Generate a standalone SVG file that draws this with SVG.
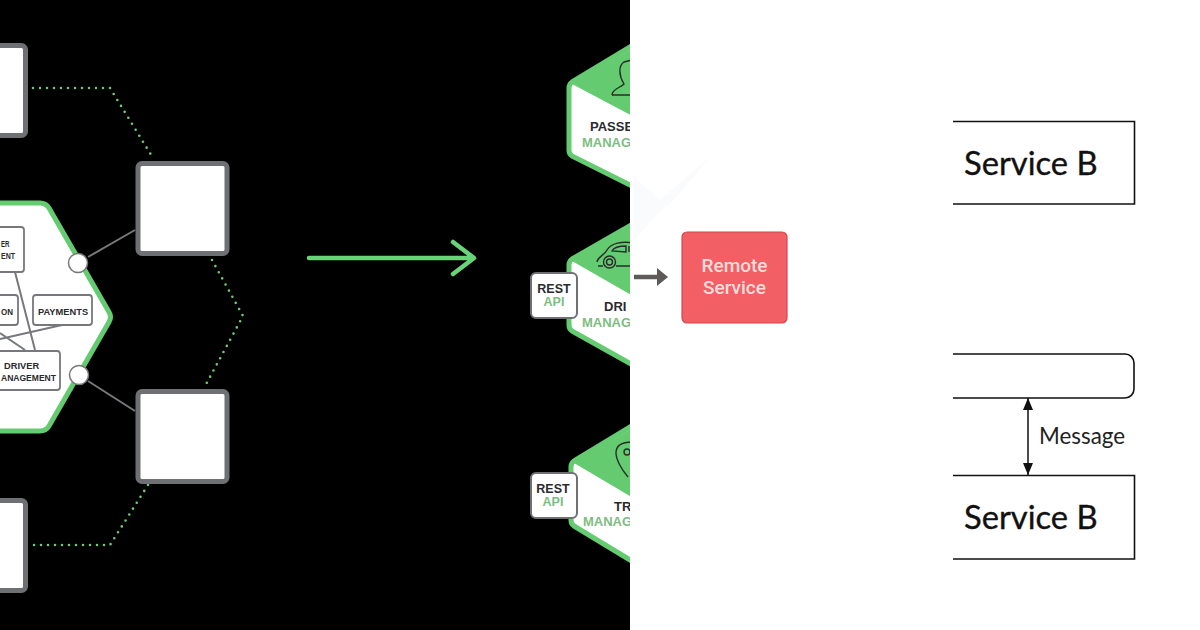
<svg xmlns="http://www.w3.org/2000/svg" width="1200" height="630" viewBox="0 0 1200 630">
<defs>
<style>
.sq{fill:#fff;stroke:#6f7074;stroke-width:5}
.dot{fill:none;stroke:#6ccb74;stroke-width:2.6;stroke-linecap:round;stroke-dasharray:0 7}
.lnk{stroke:#77787c;stroke-width:2;fill:none}
.in{fill:#fff;stroke:#77787c;stroke-width:1.8}
.t{font-family:"Liberation Sans",Arial,sans-serif;font-weight:700;fill:#2a2a2e}
.s{font-size:9.3px}
.hx{fill:#fff;stroke:#64cb70;stroke-width:5;stroke-linejoin:round}
.gr{fill:#64cb70}
.h{font-size:13px;text-anchor:start}
.g{fill:#7dbd82}
.rest{fill:#fff;stroke:#6f7074;stroke-width:2}
.ic{fill:none;stroke:#2b2b2b;stroke-width:1.4}
.b{fill:#fff;stroke:#111;stroke-width:1.6}
.sb{font-family:Lato,"Liberation Sans",sans-serif;font-size:32.700px;fill:#111;stroke:#111;stroke-width:.35}
</style>
<marker id="tip" viewBox="0 0 10 10" refX="10" refY="5" markerWidth="12" markerHeight="10" markerUnits="userSpaceOnUse" orient="auto-start-reverse" preserveAspectRatio="none"><path d="M0 0L10 5L0 10Z" fill="#111"/></marker>
</defs>
<rect width="630" height="630" fill="#000"/>

<g id="connectors-left">
<path class="dot" d="M33 88H110L153 158"/>
<path class="dot" d="M212 260L243 316L204 388"/>
<path class="dot" d="M148 485L110 545H30"/>
<path class="lnk" d="M88 257L135 230M88 381L135 411"/>
<path d="M309 258H473M453 242L474 258L453 274" fill="none" stroke="#69d477" stroke-width="4.500" stroke-linecap="round" stroke-linejoin="round"/>
</g>

<g id="box-top-left"><rect class="sq" x="-20" y="45.500" width="45.500" height="90" rx="4"/></g>
<g id="box-upper-right"><rect class="sq" x="138" y="163.500" width="89" height="90" rx="4"/></g>
<g id="box-lower-right"><rect class="sq" x="138" y="391.500" width="89" height="90" rx="4"/></g>
<g id="box-bottom-left"><rect class="sq" x="-20" y="500.500" width="45.500" height="90" rx="4"/></g>

<g id="monolith">
<path d="M-20 203H40Q46 203 49 208L109 312Q112 317 109 322L49 426Q46 431 40 431H-20Z" fill="#fff" stroke="#64cb70" stroke-width="5" stroke-linejoin="round"/>
<path class="lnk" d="M15 272L35 350M62 325L0 339M0 333L25 350"/>
<rect class="in" x="-10" y="227" width="34" height="45" rx="3"/>
<rect class="in" x="-10" y="295" width="28" height="30" rx="3"/>
<rect class="in" x="33" y="295" width="59" height="30" rx="3"/>
<rect class="in" x="-10" y="351" width="70" height="39" rx="3"/>
<text class="t s" x="1" y="247" textLength="8.500" lengthAdjust="spacingAndGlyphs">ER</text>
<text class="t s" x="1" y="259" textLength="14" lengthAdjust="spacingAndGlyphs">ENT</text>
<text class="t s" x="1" y="315" textLength="12" lengthAdjust="spacingAndGlyphs">ON</text>
<text class="t s" x="38" y="315">PAYMENTS</text>
<text class="t s" x="4" y="369">DRIVER</text>
<text class="t s" x="1" y="380.500" textLength="55" lengthAdjust="spacingAndGlyphs">ANAGEMENT</text>
<circle cx="78" cy="263" r="9.500" fill="#fff" stroke="#77787c" stroke-width="1.500"/>
<circle cx="79" cy="375" r="9.500" fill="#fff" stroke="#77787c" stroke-width="1.500"/>
</g>

<g id="passenger">
<path class="hx" d="M572 82L640 41V190L572 156Q569 154 569 150V88Q569 84 572 82Z"/>
<path class="gr" d="M572 84L640 44V120Z"/>
<path class="ic" d="M612 95C612 89 620 88 624 84C619 76 618 66 624 62L632 60M612 95H632"/>
<text class="t h" x="590" y="131">PASSE</text>
<text class="t h g" x="582" y="147">MANAG</text>
</g>
<g id="driver">
<path class="hx" d="M572 259L640 220V369L572 331Q569 329 569 325V265Q569 261 572 259Z"/>
<path class="gr" d="M572 261L640 222V300Z"/>
<path class="ic" d="M597 262C598 256 604 256 607 250C611 243 622 241 634 243V266H616M603 266H598M612 251C614 247 620 246 626 246V252ZM629 246V252"/>
<circle class="ic" cx="609.500" cy="262" r="6"/>
<circle class="ic" cx="609.500" cy="262" r="3"/>
<text class="t h" x="604" y="311">DRI</text>
<text class="t h g" x="582" y="327">MANAG</text>
</g>
<g id="trip">
<path class="hx" d="M574 461L640 421V566L574 526Q571 524 571 520V467Q571 463 574 461Z"/>
<path class="gr" d="M574 463L640 424V502Z"/>
<path class="ic" d="M628 477C621 469 616 459 616 453C616 446 621 442 632 442"/>
<circle class="ic" cx="627" cy="452" r="3"/>
<text class="t h" x="614" y="511">TR</text>
<text class="t h g" x="583" y="526">MANAG</text>
</g>
<g id="rest-driver">
<rect class="rest" x="531" y="273" width="46" height="45" rx="5"/>
<text class="t" x="554" y="293" font-size="12.500" text-anchor="middle">REST</text>
<text class="t g" x="554" y="306" font-size="12.500" text-anchor="middle">API</text>
</g>
<g id="rest-trip">
<rect class="rest" x="531" y="473" width="46" height="45" rx="5"/>
<text class="t" x="553" y="493" font-size="12.500" text-anchor="middle">REST</text>
<text class="t g" x="553" y="506" font-size="12.500" text-anchor="middle">API</text>
</g>

<rect x="630" width="570" height="630" fill="#fff"/>
<path d="M634 177L666 205L634 240ZM660 200L712 155L668 206Z" fill="#fafbfd"/>

<g id="connectors-right">
<path d="M634 277H660" stroke="#5e5a5a" stroke-width="4.500"/>
<path d="M657 268L668 277L657 286Z" fill="#5e5a5a"/>
<path d="M1028 398V475" stroke="#111" stroke-width="1.500" marker-start="url(#tip)" marker-end="url(#tip)"/>
</g>
<g id="remote-service">
<rect x="682" y="232" width="105" height="91" rx="5" fill="#f25f64" stroke="#d2484e" stroke-width="1.200"/>
<text x="734.500" y="272" font-family="Roboto,'Liberation Sans',sans-serif" font-size="19px" font-weight="500" fill="#fbdcdc" text-anchor="middle">Remote</text>
<text x="734.500" y="294" font-family="Roboto,'Liberation Sans',sans-serif" font-size="19px" font-weight="500" fill="#fbdcdc" text-anchor="middle">Service</text>
</g>
<g id="service-b-top">
<path class="b" d="M953 121.500H1134.500V204H953"/>
<text class="sb" x="964" y="175">Service B</text>
</g>
<g id="service-a-clipped">
<path class="b" d="M953 354H1125a9 9 0 0 1 9 9V389a9 9 0 0 1 -9 9H953"/>
</g>
<g id="service-b-bottom">
<path class="b" d="M953 475.500H1134.500V559H953"/>
<text class="sb" x="964" y="529">Service B</text>
</g>
<text x="1039" y="444" font-family="Lato,'Liberation Sans',sans-serif" font-size="22.400px" fill="#222">Message</text>
</svg>
